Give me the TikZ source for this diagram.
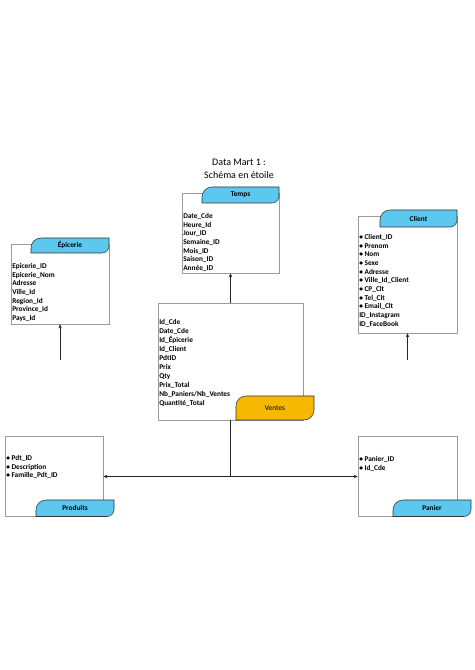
\documentclass[tikz,border=0pt]{standalone}
\usepackage{fontspec}
\setmainfont{Carlito}
\usetikzlibrary{arrows.meta,positioning}
\definecolor{sky}{HTML}{5CC8F0}
\definecolor{gold}{HTML}{F6B800}
\definecolor{edge}{HTML}{9A9A9A}

\begin{document}
\begin{tikzpicture}[
	x=0.75pt, y=0.75pt,
	every node/.style={font=\fontsize{5.5}{6.5}\selectfont\bfseries, inner sep=0pt},
	box/.style={draw=edge, line width=0.5pt, fill=white},
	items/.style={anchor=north west, align=left},
	tab/.style={draw=black!80, line width=0.4pt, fill=#1},
	arrow/.style={-{Stealth[length=3pt,width=2.6pt]}, line width=0.45pt, black!85}
	]
	\useasboundingbox (0,0) rectangle (474,670);
	
	\node[font=\fontsize{7.5}{9.5}\selectfont, align=center] (title) at (239,501.5) {Data Mart 1 :\\ Schéma en étoile};
	
	% dimension tables
	\node[box, minimum width=0.75*97pt, minimum height=0.75*80pt] (temps) at (230.5,437) {};
	\draw[tab=sky] (202,467) -- (202,473) arc[start angle=180,end angle=90,radius=10] -- (279,483) -- (279,474) arc[start angle=0,end angle=-90,radius=7] -- cycle;
	\node (tempsT) at (240.5,475) {Temps};
	\node[items] (tempsL) at (183,457) {Date\_Cde\\ Heure\_Id\\ Jour\_ID\\ Semaine\_ID\\ Mois\_ID\\ Saison\_ID\\ Année\_ID};
	
	\node[box, minimum width=0.75*98pt, minimum height=0.75*80pt] (epicerie) at (60,386) {};
	\draw[tab=sky] (31,417) -- (31,422) arc[start angle=180,end angle=90,radius=10] -- (109,432) -- (109,424) arc[start angle=0,end angle=-90,radius=7] -- cycle;
	\node (epicerieT) at (70,424.5) {Épicerie};
	\node[items] (epicerieL) at (12,407) {Epicerie\_ID\\ Epicerie\_Nom\\ Adresse\\ Ville\_Id\\ Region\_Id\\ Province\_Id\\ Pays\_Id};
	
	\node[box, minimum width=0.75*99pt, minimum height=0.75*117pt] (client) at (407.5,395.5) {};
	\draw[tab=sky] (380,443) -- (380,450) arc[start angle=180,end angle=90,radius=10] -- (457,460) -- (457,450) arc[start angle=0,end angle=-90,radius=7] -- cycle;
	\node (clientT) at (418.5,451.5) {Client};
	\node[items] (clientL) at (359,436) {• Client\_ID\\ • Prenom\\ • Nom\\ • Sexe\\ • Adresse\\ • Ville\_Id\_Client\\ • CP\_Clt\\ • Tel\_Clt\\ • Email\_Clt\\ ID\_Instagram\\ ID\_FaceBook};
	
	\node[box, minimum width=0.75*98pt, minimum height=0.75*80pt] (produits) at (54,193.5) {};
	\draw[tab=sky] (36,153.5) -- (36,160) arc[start angle=180,end angle=90,radius=10] -- (114,170) -- (114,160.5) arc[start angle=0,end angle=-90,radius=7] -- cycle;
	\node (produitsT) at (75,162) {Produits};
	\node[items] (produitsL) at (6,215) {• Pdt\_ID\\ • Description\\ • Famille\_Pdt\_ID};
	
	\node[box, minimum width=0.75*99pt, minimum height=0.75*80pt] (panier) at (407.5,193.5) {};
	\draw[tab=sky] (393,153.5) -- (393,160) arc[start angle=180,end angle=90,radius=10] -- (471,170) -- (471,160.5) arc[start angle=0,end angle=-90,radius=7] -- cycle;
	\node (panierT) at (432,162) {Panier};
	\node[items] (panierL) at (359,214) {• Panier\_ID\\ • Id\_Cde};
	
	% fact table
	\node[box, minimum width=0.75*145pt, minimum height=0.75*117pt] (ventes) at (230.5,308.5) {};
	\draw[tab=gold] (236,250) -- (236,264) arc[start angle=180,end angle=90,radius=10] -- (314,274) -- (314,260) arc[start angle=0,end angle=-90,radius=10] -- cycle;
	\node[font=\fontsize{5.5}{6.5}\selectfont] (ventesT) at (275,262) {Ventes};
	\node[items, font=\fontsize{5.5}{6.75}\selectfont\bfseries] (ventesL) at (159,351) {Id\_Cde\\ Date\_Cde\\ Id\_Épicerie\\ Id\_Client\\ PdtID\\ Prix\\ Qty\\ Prix\_Total\\ Nb\_Paniers/Nb\_Ventes\\ Quantité\_Total};
	
	% connectors
	\coordinate (epicerieIn) at (60,310);
	\coordinate (clientIn) at (407.5,310);
	\coordinate (hub) at (230.5,193.5);
	
	\draw[arrow] (ventes) -- (temps);
	\draw[arrow] (epicerieIn) -- (epicerie);
	\draw[arrow] (clientIn) -- (client);
	\draw[line width=0.45pt, black!85] (ventes) -- (hub);
	\draw[arrow] (hub) -- (produits.east);
	\draw[arrow] (hub) -- (panier.west);
	
\end{tikzpicture}
\end{document}
